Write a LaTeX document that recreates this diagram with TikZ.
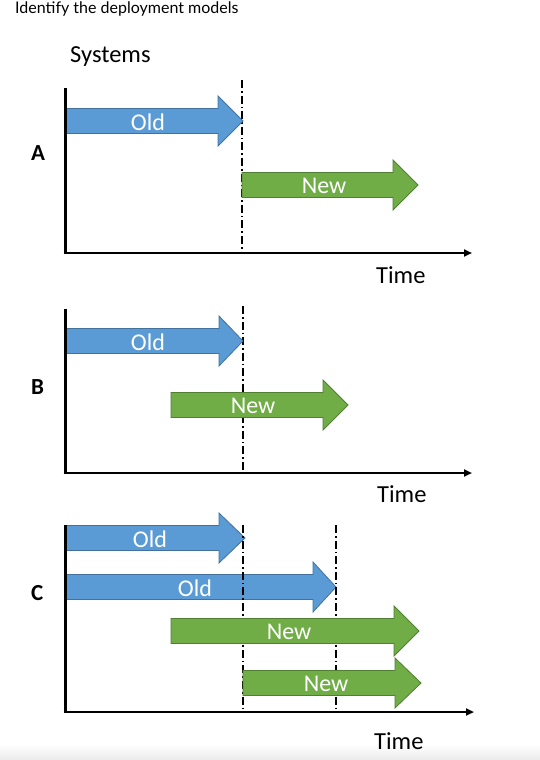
\documentclass[tikz,border=0pt]{standalone}
\usepackage{fontspec}
\setmainfont{Carlito}
\newfontfamily\titlefont{Lato}
\usetikzlibrary{arrows.meta}
\definecolor{oldfill}{HTML}{5B9BD5}
\definecolor{olddraw}{HTML}{41719C}
\definecolor{newfill}{HTML}{70AD47}
\definecolor{newdraw}{HTML}{507E32}
\tikzset{
  oldarrow/.style={fill=oldfill, draw=olddraw, line width=0.8pt},
  newarrow/.style={fill=newfill, draw=newdraw, line width=0.8pt},
  barlabel/.style={text=white, font=\fontsize{24}{24}\selectfont, inner sep=0pt},
  axislabel/.style={font=\fontsize{24.5}{24.5}\selectfont, inner sep=0pt, anchor=base west},
  rowlabel/.style={font=\bfseries\fontsize{23}{23}\selectfont, inner sep=0pt, anchor=base west},
  vaxis/.style={line width=3pt},
  haxis/.style={line width=2.2pt, -{Triangle[length=8pt,width=7pt]}},
  cutline/.style={line width=1.6pt, dash pattern=on 8pt off 3pt on 1.6pt off 3pt},
}
% #1 start x, #2 head base x, #3 tip x, #4 centre y, #5 style
\newcommand\sysarrow[5]{%
  \path[#5] (#1,#4-12.5) -- (#2,#4-12.5) -- (#2,#4-25) -- (#3,#4) -- (#2,#4+25)
    -- (#2,#4+12.5) -- (#1,#4+12.5) -- cycle;}
\begin{document}
\begin{tikzpicture}[x=1pt,y=-1pt]
\useasboundingbox (0,0) rectangle (540,760);
\shade[top color=white, bottom color=black!8] (0,744) rectangle (540,760);

\node[inner sep=0pt, anchor=base west, font=\titlefont\fontsize{16}{16}\selectfont] (title) at (15,14) {Identify the deployment models};
\node[axislabel] (systems) at (70,63) {Systems};

% ---------- A ----------
\coordinate (A0) at (65,88);
\coordinate (Aorig) at (65,253);
\coordinate (Aend) at (472,253);
\draw[cutline] (242,80) -- (242,250);
\sysarrow{65}{218}{243}{121}{oldarrow}
\sysarrow{242}{393}{418}{185}{newarrow}
\node[barlabel] (aold) at (148,122) {Old};
\node[barlabel] (anew) at (324,186) {New};
\draw[vaxis] (A0) -- (Aorig);
\draw[haxis] ([xshift=-1.5pt]Aorig) -- (Aend);
\node[rowlabel] (la) at (31,160) {A};
\node[axislabel] (ta) at (376,283) {Time};

% ---------- B ----------
\coordinate (B0) at (65,309);
\coordinate (Borig) at (65,473);
\coordinate (Bend) at (472,473);
\draw[cutline] (243,306) -- (243,470);
\sysarrow{65}{219}{243}{341}{oldarrow}
\sysarrow{171}{323}{348}{405}{newarrow}
\node[barlabel] (bold) at (148,342) {Old};
\node[barlabel] (bnew) at (253,406) {New};
\draw[vaxis] (B0) -- (Borig);
\draw[haxis] ([xshift=-1.5pt]Borig) -- (Bend);
\node[rowlabel] (lb) at (31,394) {B};
\node[axislabel] (tb) at (377,502) {Time};

% ---------- C ----------
\coordinate (C0) at (65,525);
\coordinate (Corig) at (65,712);
\coordinate (Cend) at (474,712);
\sysarrow{65}{219}{245}{538}{oldarrow}
\sysarrow{65}{313}{336}{587}{oldarrow}
\draw[cutline] (243,525) -- (243,709);
\draw[cutline] (336,525) -- (336,709);
\sysarrow{171}{394}{419}{631}{newarrow}
\sysarrow{243}{395}{421}{683}{newarrow}
\node[barlabel] (cold1) at (150,539) {Old};
\node[barlabel] (cold2) at (195,588) {Old};
\node[barlabel] (cnew1) at (289,632) {New};
\node[barlabel] (cnew2) at (326,684) {New};
\draw[vaxis] (C0) -- (Corig);
\draw[haxis] ([xshift=-1.5pt]Corig) -- (Cend);
\node[rowlabel] (lc) at (31,600) {C};
\node[axislabel] (tc) at (374,749) {Time};
\end{tikzpicture}
\end{document}
